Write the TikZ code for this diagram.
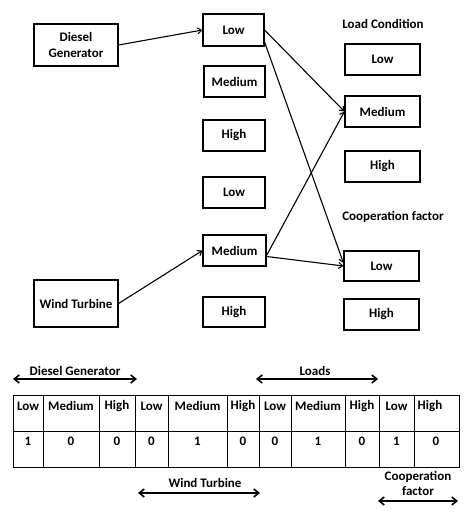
\documentclass[tikz,border=0pt]{standalone}
\usepackage{fontspec}
\setmainfont{Carlito}
\usetikzlibrary{arrows.meta}
\begin{document}
\begin{tikzpicture}[x=1pt,y=-1pt,
  every node/.style={font=\fontsize{13}{16}\selectfont\bfseries, inner sep=0pt},
  box/.style={draw, line width=1.1pt, minimum width=#1, align=center},
  box/.default=62pt,
  conn/.style={line width=1.1pt, -{Straight Barb[length=4pt,width=6pt]}},
  span/.style={line width=1.6pt, {Straight Barb[length=5pt,width=8pt]}-{Straight Barb[length=5pt,width=8pt]}},
  grid/.style={line width=0.9pt}]
\useasboundingbox (0,0) rectangle (474,524);
% left sources
\node[box=84pt, minimum height=42pt] (dg) at (76,45) {Diesel\\Generator};
\node[box=84pt, minimum height=47pt] (wt) at (76,303.5) {Wind Turbine};
% middle levels
\node[box=61pt, minimum height=32pt] (dglow) at (233.5,30) {Low};
\node[box=61pt, minimum height=31pt] (dgmed) at (234.5,81.5) {Medium};
\node[box=62pt, minimum height=31pt] (dghigh) at (234,135.5) {High};
\node[box=62pt, minimum height=31pt] (wtlow) at (234,192.5) {Low};
\node[box=63pt, minimum height=31pt] (wtmed) at (234.5,250.5) {Medium};
\node[box=62pt, minimum height=30pt] (wthigh) at (234,312) {High};
% right
\node (lctitle) at (383,24) {Load Condition};
\node[box=75pt, minimum height=31pt] (ldlow) at (382.5,59.5) {Low};
\node[box=75pt, minimum height=31pt] (ldmed) at (382.5,111.5) {Medium};
\node[box=75pt, minimum height=31pt] (ldhigh) at (382.5,166.5) {High};
\node (cftitle) at (393,217) {Cooperation factor};
\node[box=75pt, minimum height=30pt] (cflow) at (381.5,266) {Low};
\node[box=75pt, minimum height=31pt] (cfhigh) at (381.5,314.5) {High};
% connectors
\draw[conn] (dg.east) -- (dglow.west);
\draw[conn] (dglow.east) -- (ldmed.west);
\draw[conn] ([yshift=-12pt]dglow.east) -- ([yshift=3pt]cflow.west);
\draw[conn] (wt.east) -- (wtmed.west);
\draw[conn] ([yshift=-5pt]wtmed.east) -- (ldmed.west);
\draw[conn] ([yshift=-6pt]wtmed.east) -- (cflow.west);
% table
\draw[grid] (13,395) rectangle (459,467);
\draw[grid] (13,431) -- (459,431);
\foreach \x in {43,99,135,168,227,259,291,345,379,414} \draw[grid] (\x,395) -- (\x,467);
\foreach \x/\t [count=\i] in {28/Low, 71/Medium, 117/High, 151.5/Low, 197.5/Medium, 243/High, 275/Low, 318/Medium, 362/High, 396.5/Low, 430/High} {
  \node (h\i) at (\x,406) {\t};
}
\foreach \x/\v [count=\i] in {28/1, 71/0, 117/0, 151.5/0, 197.5/1, 243/0, 275/0, 318/1, 362/0, 396.5/1, 436/0} {
  \node (v\i) at (\x,441) {\v};
}
% spans
\coordinate (dga) at (13,379); \coordinate (dgb) at (137,379);
\draw[span] (dga) -- (dgb);
\node (dglab) at (75,371) {Diesel Generator};
\coordinate (lda) at (256,379); \coordinate (ldb) at (378,379);
\draw[span] (lda) -- (ldb);
\node (ldlab) at (315,371) {Loads};
\coordinate (wta) at (138,493); \coordinate (wtb) at (260,493);
\draw[span] (wta) -- (wtb);
\node (wtlab) at (205,483) {Wind Turbine};
\coordinate (cfa) at (378,501); \coordinate (cfb) at (458,501);
\draw[span] (cfa) -- (cfb);
\node[align=center, font=\fontsize{13}{15}\selectfont\bfseries] (cflab) at (418,483) {Cooperation\\factor};
\end{tikzpicture}
\end{document}
